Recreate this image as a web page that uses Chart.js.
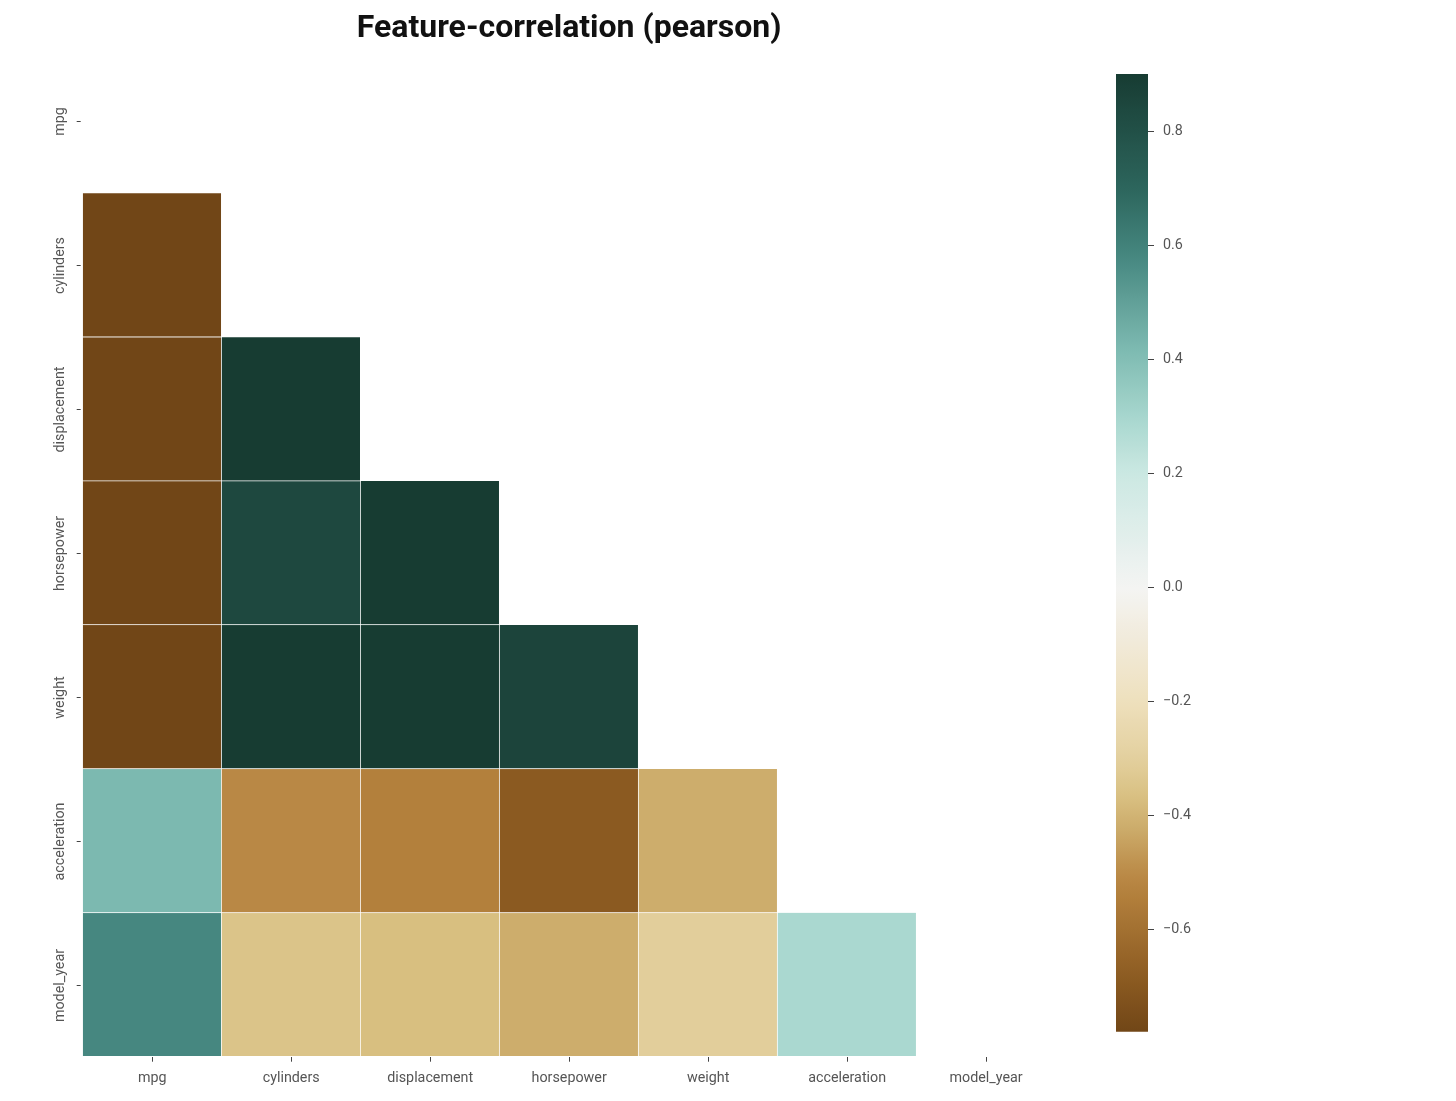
<!DOCTYPE html>
<html lang="en">
<head>
    <meta charset="UTF-8">
    <title>Feature-correlation (pearson)</title>
    <style>
        body {
            margin: 0;
            background-color: #ffffff;
            overflow: hidden;
        }
        #heatmap {
            position: absolute;
            left: 0;
            top: 0;
        }
        #colorbar {
            position: absolute;
            left: 1116px;
            top: 64px;
        }
    </style>
</head>
<body>
    <canvas id="heatmap" width="1456" height="1101"></canvas>
    <canvas id="colorbar" width="100" height="978"></canvas>

    <script src="https://cdn.jsdelivr.net/npm/chart.js"></script>
    <script>
        const features = ['mpg', 'cylinders', 'displacement', 'horsepower', 'weight', 'acceleration', 'model_year'];

        // lower triangle only, row i holds the correlations with columns 0..i-1
        const cylindersRow = [-0.78];
        const displacementRow = [-0.80, 0.95];
        const horsepowerRow = [-0.78, 0.84, 0.90];
        const weightRow = [-0.83, 0.90, 0.93, 0.86];
        const accelerationRow = [0.42, -0.51, -0.54, -0.69, -0.42];
        const modelYearRow = [0.58, -0.35, -0.37, -0.42, -0.31, 0.29];

        const cbarMin = -0.78;
        const cbarMax = 0.9;
        const cbarTicks = [-0.6, -0.4, -0.2, 0, 0.2, 0.4, 0.6, 0.8];

        const rows = [[], cylindersRow, displacementRow, horsepowerRow, weightRow, accelerationRow, modelYearRow];

        // brown-white-green colormap (value -> colour)
        const cmapStops = [
            [-0.9, '#5c3711'],
            [-0.78, '#714617'],
            [-0.69, '#8b5a21'],
            [-0.54, '#b3803c'],
            [-0.5, '#bb8b48'],
            [-0.42, '#cdad6c'],
            [-0.37, '#d8bf80'],
            [-0.35, '#dbc489'],
            [-0.31, '#e2ce9b'],
            [-0.2, '#eee0bd'],
            [0, '#f4f4f3'],
            [0.2, '#cbe8e2'],
            [0.29, '#aad8d0'],
            [0.42, '#7cb9b0'],
            [0.58, '#468780'],
            [0.7, '#2c655c'],
            [0.84, '#1e483f'],
            [0.9, '#173c32']
        ];

        function hexToRgb(h) {
            return [parseInt(h.slice(1, 3), 16), parseInt(h.slice(3, 5), 16), parseInt(h.slice(5, 7), 16)];
        }

        function cmap(v) {
            v = Math.max(cbarMin, Math.min(cbarMax, v));
            for (let i = 1; i < cmapStops.length; i++) {
                const [v1, c1] = cmapStops[i];
                if (v <= v1) {
                    const [v0, c0] = cmapStops[i - 1];
                    const t = (v - v0) / (v1 - v0);
                    const a = hexToRgb(c0), b = hexToRgb(c1);
                    const rgb = a.map((x, k) => Math.round(x + (b[k] - x) * t));
                    return 'rgb(' + rgb.join(',') + ')';
                }
            }
            return cmapStops[cmapStops.length - 1][1];
        }

        const tickFont = { family: 'Roboto', size: 14.3 };
        const tickColor = '#555555';

        const datasets = [];
        rows.forEach((vals, r) => {
            if (!vals.length) return;
            datasets.push({
                label: features[r],
                data: features.map((f, c) => c < r ? [r - 0.5, r + 0.5] : null),
                backgroundColor: features.map((f, c) => c < r ? cmap(vals[c]) : 'rgba(0,0,0,0)'),
                borderColor: '#ffffff',
                borderWidth: { top: 0, left: 0, right: 1, bottom: 1 },
                borderSkipped: false,
                barPercentage: 1,
                categoryPercentage: 1,
                grouped: false
            });
        });

        // y labels are drawn rotated, matplotlib style
        const rowLabels = {
            id: 'rowLabels',
            afterDraw(chart) {
                const ctx = chart.ctx;
                const y = chart.scales.y;
                const left = chart.chartArea.left;
                ctx.save();
                ctx.strokeStyle = '#444444';
                ctx.lineWidth = 1;
                ctx.fillStyle = tickColor;
                ctx.font = '14.3px Roboto';
                ctx.textAlign = 'center';
                ctx.textBaseline = 'middle';
                features.forEach((f, i) => {
                    const py = Math.round(y.getPixelForValue(i)) + 0.5;
                    ctx.beginPath();
                    ctx.moveTo(left - 6, py);
                    ctx.lineTo(left - 2, py);
                    ctx.stroke();
                    ctx.save();
                    ctx.translate(60, py);
                    ctx.rotate(-Math.PI / 2);
                    ctx.fillText(f, 0, 0);
                    ctx.restore();
                });
                ctx.restore();
            }
        };

        const heatmap = new Chart(document.getElementById('heatmap'), {
            type: 'bar',
            data: { labels: features, datasets: datasets },
            options: {
                responsive: false,
                animation: false,
                layout: { padding: { left: 0, right: 400.4, top: 0, bottom: 0 } },
                scales: {
                    x: {
                        type: 'category',
                        offset: true,
                        grid: {
                            display: true,
                            drawOnChartArea: false,
                            drawTicks: true,
                            tickLength: 5,
                            tickColor: '#444444',
                            offset: false
                        },
                        border: { display: false },
                        ticks: { font: tickFont, color: tickColor, padding: 8, autoSkip: false, maxRotation: 0 },
                        afterFit(scale) { scale.height = 44.3; }
                    },
                    y: {
                        type: 'linear',
                        min: -0.5,
                        max: 6.5,
                        reverse: true,
                        grid: { display: false },
                        border: { display: false },
                        ticks: { display: false },
                        afterFit(scale) { scale.width = 82.7; }
                    }
                },
                plugins: {
                    legend: { display: false },
                    tooltip: { enabled: false },
                    title: {
                        display: true,
                        fullSize: false,
                        text: 'Feature-correlation (pearson)',
                        color: '#111111',
                        font: { family: 'Roboto', size: 32, weight: 'bold' },
                        padding: { top: 10, bottom: 1 }
                    }
                }
            },
            plugins: [rowLabels]
        });

        function cbarGradient(context) {
            const chart = context.chart;
            const area = chart.chartArea;
            if (!area) return cmap(0);
            const y = chart.scales.y;
            const g = chart.ctx.createLinearGradient(0, y.getPixelForValue(cbarMin), 0, y.getPixelForValue(cbarMax));
            const n = 80;
            for (let i = 0; i <= n; i++) {
                const v = cbarMin + (cbarMax - cbarMin) * i / n;
                g.addColorStop(i / n, cmap(v));
            }
            return g;
        }

        const colorbar = new Chart(document.getElementById('colorbar'), {
            type: 'bar',
            data: {
                labels: [''],
                datasets: [{
                    data: [[cbarMin, cbarMax]],
                    backgroundColor: cbarGradient,
                    borderWidth: 0,
                    barPercentage: 1,
                    categoryPercentage: 1
                }]
            },
            options: {
                responsive: false,
                animation: false,
                layout: { padding: { left: 0, right: 0, top: 10, bottom: 10.3 } },
                scales: {
                    x: { display: false },
                    y: {
                        type: 'linear',
                        position: 'right',
                        min: cbarMin,
                        max: cbarMax,
                        grid: {
                            drawOnChartArea: false,
                            drawTicks: true,
                            tickLength: 6,
                            tickColor: '#444444'
                        },
                        border: { display: false },
                        ticks: {
                            font: tickFont,
                            color: tickColor,
                            padding: 9,
                            callback: (v) => (v < -1e-9 ? '\u2212' : '') + Math.abs(v).toFixed(1)
                        },
                        afterBuildTicks(scale) {
                            scale.ticks = cbarTicks.map(v => ({ value: v }));
                        },
                        afterFit(scale) {
                            scale.width = 68;
                            scale.paddingTop = 0;
                            scale.paddingBottom = 0;
                        }
                    }
                },
                plugins: {
                    legend: { display: false },
                    tooltip: { enabled: false }
                }
            }
        });
    </script>
</body>
</html>
